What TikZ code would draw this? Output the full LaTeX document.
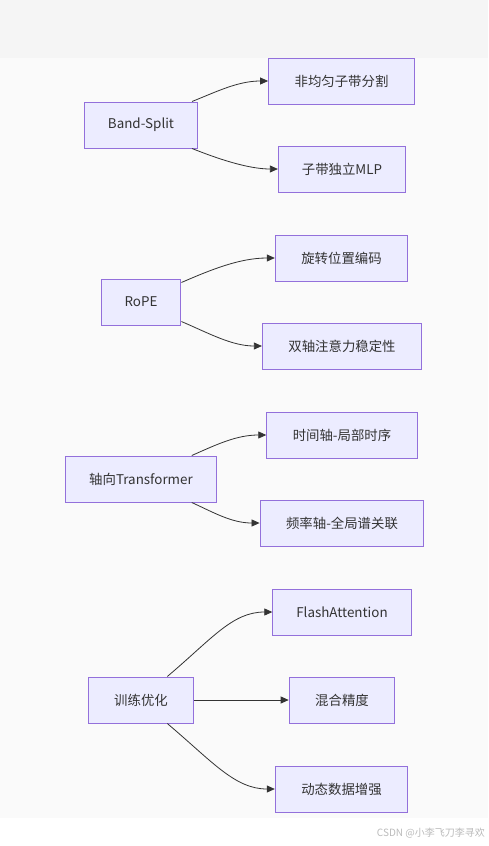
\documentclass[tikz,border=0pt]{standalone}
\usepackage{fontspec}
\setmainfont{Noto Sans CJK SC}
\usetikzlibrary{arrows.meta}

\definecolor{boxfill}{HTML}{ECECFF}
\definecolor{boxline}{HTML}{9370DB}
\definecolor{inkline}{HTML}{333333}
\definecolor{topbg}{HTML}{F5F5F5}
\definecolor{mainbg}{HTML}{FAFAFA}
\definecolor{markgray}{HTML}{BBBBBB}

\begin{document}
\begin{tikzpicture}[x=1pt, y=-1pt,
        box/.style={draw=boxline, fill=boxfill, line width=1pt,
            minimum height=46pt, inner xsep=26pt, text=inkline,
            font=\fontsize{13.4}{16}\selectfont},
        latinbox/.style={box, inner xsep=23.5pt},
        link/.style={draw=inkline, line width=0.8pt,
            -{Triangle[length=8pt,width=7pt]}}]

            \useasboundingbox (0,0) rectangle (488,846);
            \fill[white] (0,0) rectangle (488,846);
            \fill[topbg] (0,0) rectangle (488,58);
            \fill[mainbg] (0,58) rectangle (488,818);

            % Band-Split
            \node[latinbox] (bs) at (141,125) {Band-Split};
            \node[box] (bs1) at (341.5,81) {非均匀子带分割};
            \node[latinbox] (bs2) at (342,169) {子带独立MLP};

            \draw[link] ([xshift=-6pt]bs.north east) .. controls +(25,-10) and +(-30,0) .. (bs1.west);
            \draw[link] ([xshift=-6pt]bs.south east) .. controls +(25,10) and +(-30,0) .. (bs2.west);

            % RoPE
            \node[latinbox] (rp) at (141,302) {RoPE};
            \node[box] (rp1) at (341.5,258) {旋转位置编码};
            \node[box] (rp2) at (342,346) {双轴注意力稳定性};

            \draw[link] ([yshift=-4pt]rp.north east) .. controls +(30,-13) and +(-35,0) .. (rp1.west);
            \draw[link] ([yshift=4pt]rp.south east) .. controls +(28,12) and +(-30,0) .. (rp2.west);

            % axial transformer
            \node[latinbox] (ax) at (141,479) {轴向Transformer};
            \node[box] (ax1) at (342,435) {时间轴-局部时序};
            \node[box] (ax2) at (342,523) {频率轴-全局谱关联};

            \draw[link] ([xshift=-25pt]ax.north east) .. controls +(25,-11) and +(-30,0) .. (ax1.west);
            \draw[link] ([xshift=-25pt]ax.south east) .. controls +(22,10) and +(-28,0) .. (ax2.west);

            % training
            \node[box] (tr) at (141,700) {训练优化};
            \node[latinbox] (tr1) at (342,612) {FlashAttention};
            \node[box] (tr2) at (342,700) {混合精度};
            \node[box] (tr3) at (341.5,789) {动态数据增强};

            \draw[link] ([xshift=-27pt]tr.north east) .. controls +(45,-38) and +(-40,0) .. (tr1.west);
            \draw[link] (tr.east) -- (tr2.west);
            \draw[link] ([xshift=-27pt]tr.south east) .. controls +(45,38) and +(-40,0) .. (tr3.west);

            \node[font=\fontsize{10}{12}\selectfont, text=markgray, anchor=east, inner sep=0pt] (mark) at (485,833) {CSDN @小李飞刀李寻欢};

          \end{tikzpicture}
\end{document}
